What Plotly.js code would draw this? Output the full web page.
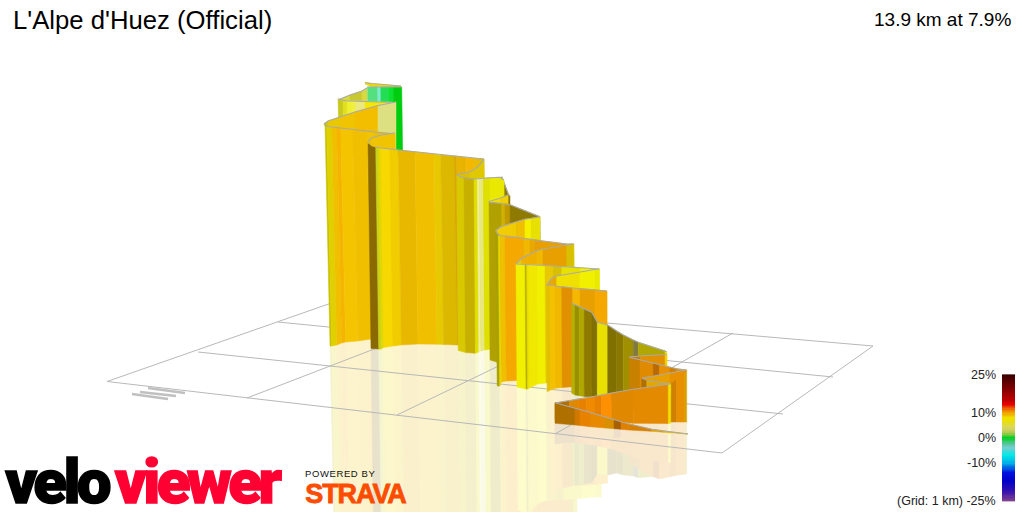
<!DOCTYPE html>
<html><head><meta charset="utf-8">
<script src="https://cdn.plot.ly/plotly-3.0.1.min.js"></script>
<style>
html,body{margin:0;padding:0;background:#fff}
#c{width:1024px;height:512px}
.annotation[data-index="2"] text{letter-spacing:-3.6px;stroke:#000;stroke-width:1.4px}
.annotation[data-index="3"] text{letter-spacing:-3.6px;stroke:#ff0033;stroke-width:1.4px}
.annotation[data-index="4"] text{letter-spacing:.6px}
.annotation[data-index="5"] text{letter-spacing:-1.1px;stroke:#fc4c02;stroke-width:.8px}
</style></head><body><div id="c"></div>
<script>
// Each ribbon: edge x, top y, base y (pixel-plane values), strip colours, lean
const greenTopX=[365,372,401], greenTopY=[82.5,83.5,86], greenTopB=[84,87,87], greenTopC=['#e8d800','#f0d800'];
const greenX=[367.3,377.7,380.7,388.3,393.3,401.7], greenY=[87,87,87,87,87,87], greenB=[155,155,155,155,155,155], greenC=['#55e080','#7fe8d0','#22dd55','#0ce030','#00cc10'];
const oliveX=[339,350,362,367], oliveY=[99.5,95,91,88], oliveB=[112,112,112,112], oliveC=['#d8d840','#c8c830','#d8d840'];
const paleX=[338,343,347,351,355.5,365,378,392], paleY=[99,100.5,101,101,101,101.5,102,102.3], paleB=[140,140,140,140,140,140,140,140], paleC=['#c8c820','#e0e020','#f0f030','#f0f040','#ece880','#f4e800','#f4e800'];
const riseX=[324,328,340,355,378,396], riseY=[124,121,117,112,105.5,102], riseB=[125,128,155,155,155,155], riseC=['#c8c800','#e8c800','#f0c400','#f4be00','#dde080'];
const leftX=[325,326.7,331.7,336.7,340.7,352.7,366.7,375,391.7,395], leftY=[125,126,127,127.6,128,130,131.5,132,133.5,133], leftB=[346,346,345,343,342,341,339,339,340,340], leftC=['#c8c000','#e0d000','#f0c000','#f5b400','#f5c400','#f0c000','#f0c400','#e8c000','#e8c800'];
const brownX=[368,376], brownY=[143,147], brownB=[348.5,349], brownC=['#8a6a00'];
const curlX=[367.7,371.7,381.7,393.3], curlY=[141.7,137.7,135,133.3], curlB=[142,146,148,149], curlC=['#e8c000','#f0c400','#f0c400'];
const mainX=[375.7,378.3,380.7,390,398.3,415,434,440.7,454,456.7,466,474,480,484], mainY=[147.3,147.5,148,149,150,151.7,154,154.8,156,156.2,157.5,158.3,158.8,159], mainB=[349.3,349,347.5,346,345,344,344.2,344.5,345,345,345,345,345,345], mainC=['#c8d020','#e0d800','#f7d800','#f0cc00','#e8b800','#f0c000','#e8c800','#dcb800','#d8a800','#e8b400','#f5b800','#e8bc00','#d8c000'];
const main2X=[457,470,478.3,484], main2Y=[174.5,171.7,166.7,159.3], main2B=[175,179,179,179], main2C=['#dcc000','#e0c800','#e0c800'];
const darkX=[501.7,505,508.3,510], darkY=[176.7,185,194,196], darkB=[205,205,205,205], darkC=['#8f7a00','#8f7a00','#8f7a00'];
const hX=[456.7,464,474,477.3,479.3,483.3,490,500,504], hY=[175,177.7,179,178.7,178.3,178,177.7,177.2,180], hB=[350.5,352.5,353.3,352,351,350,349,348,348], hC=['#d8c800','#c8b000','#e0e000','#f0f0a0','#e8e880','#e0e000','#e8e800','#e8e800'];
const jWedgeX=[488.3,500,508], jWedgeY=[201.7,198.3,195], jWedgeB=[202,203.2,204.4], jWedgeC=['#f0e000','#f0d000'];
const jX=[489,501.7,505,510,525,540], jY=[202.3,203.3,203.7,204.7,210.7,216.7], jB=[360,364,366,366,366,366], jC=['#b0a000','#d0b000','#c09800','#8f7a00','#8f7a00'];
const kWedgeX=[495.7,501,516.7,525,531.7,540], kWedgeY=[230.7,226.7,221.7,219.3,218.3,216.7], kWedgeB=[231,236,238,239,239.5,240], kWedgeC=['#f0cc00','#f0cc00','#f0c000','#f5f000','#e8e000'];
const kX=[495.7,498.3,500,505,523.3,530,535,566.7,570.7,574], kY=[231,235,235.7,236,238.3,239,240,244,244,244], kB=[386,386,382,381,380,380,380,380,380,380], kC=['#a8a000','#e8d800','#f0c000','#f5a800','#f0b800','#e8a800','#e8a000','#d8b000','#d8d000'];
const lWedgeX=[516,521.7,536.7,543,566.7,573.3], lWedgeY=[264,258.3,250.7,249,245,244], lWedgeB=[264,264.2,265,265.5,267,267.5], lWedgeC=['#e8d000','#f0b000','#f0b800','#e8a000','#d8c000'];
const lX=[516,525,526.7,528.3,536.7,545,553.3,561.7,580,593.3,599.3], lY=[264,264.3,264.5,264.5,265,265.5,266,266.5,267.5,269,269], lB=[387,389,389,388,384,383,383,383,383,383,383], lC=['#f0f000','#b8b000','#e8e000','#f0e800','#f0f000','#e8c800','#d8c000','#e8e000','#f0f000','#e8e800'];
const mWedgeX=[546.7,551.7,556.7,580,595,599.3], mWedgeY=[285,278.3,276,271.7,269.5,269], mWedgeB=[285,285.5,286,288,289.5,290], mWedgeC=['#e8a800','#e8a800','#f0e000','#f0f000','#e8e800'];
const nX=[546.7,550,555,561.7,572.7,580,595,606.7], nY=[285,285.5,286,286.7,288,288.5,289.7,291], nB=[391.7,390,388.3,387.5,386.7,387,387,387], nC=['#e0c000','#f5c000','#f0b800','#e09000','#f5b800','#e8a000','#f5a800'];
const oX=[572,580,587,607], oY=[303,299,295,291], oB=[330,330,330,330], oC=['#f5a800','#f5a800','#f5a800'];
const pX=[571.7,575,579.3,584.3,591.7,597.3,607.7,616.7,623.3,633.3,638.3,655,665,666.7], pY=[303.3,304.7,306.7,309,312.3,322.3,325,331,335,340,342.3,347.7,350.7,351.7], pB=[393.3,395,395.7,396.5,397.3,398,400,402,405,408,410,412,414,414], pC=['#b8b000','#989000','#b0a800','#8f7a00','#807000','#e8e000','#807000','#8a7800','#a09000','#807840','#b0a800','#b0a800','#f0e000'];
const rWedgeX=[629,640,665,667], rWedgeY=[357,356,354.5,354], rWedgeB=[357,360,366,367], rWedgeC=['#c08000','#e09000','#f0d000'];
const rX=[629.3,640,653.3,659.3,670,676.7,684,686.7], rY=[357.3,360,363.3,365,367.3,368.7,369.7,370], rB=[410,415,420,422,422,422,422,422], rC=['#c88000','#e08a00','#b86a00','#e89000','#d08000','#e89000','#d8a000'];
const sWedgeX=[642,650,670,686], sWedgeY=[378.3,377,373,370], sWedgeB=[378.3,380,384,372], sWedgeC=['#e8a000','#e8a000','#e89000'];
const sX=[641.7,646.7,670,670.7], sY=[378.3,380,384,384], sB=[395,395,395,395], sC=['#b07000','#e0a800','#e0a800'];
const qX=[555,569.3,578.3,586.7,595,601.7,611.7,633.3,668.3,670.7], qY=[403,400.7,399,398,396.7,395,393,389.3,384.3,384], qB=[420,420,421,421,421,421,421,423.3,423.5,423.3], qC=['#b07000','#e08800','#e88000','#f08a00','#e88000','#ff9000','#e08800','#e48a00','#f0e000'];
const tX=[555,575,580,590,605,614,621,628.3,651.7,663.3,688], tY=[402.7,408,409.3,412.3,417,419.7,421.7,423.7,429.3,431,434], tB=[423.3,425,425.5,426.7,428,428.7,429.3,430,431.3,432.3,434], tC=['#b07000','#d07800','#e88000','#e88a00','#d89000','#a86000','#e08000','#d88000','#e0a000','#e0b000'];

// Ribbons back to front: [x, top, base, colours, lean, mirrored]
const ribbons=[
 [greenTopX,greenTopY,greenTopB,greenTopC,0,false],
 [greenX,greenY,greenB,greenC,1,false],
 [oliveX,oliveY,oliveB,oliveC,0,false],
 [paleX,paleY,paleB,paleC,1,false],
 [riseX,riseY,riseB,riseC,0,false],
 [leftX,leftY,leftB,leftC,5,true],
 [brownX,brownY,brownB,brownC,3,true],
 [curlX,curlY,curlB,curlC,0,false],
 [mainX,mainY,mainB,mainC,3,true],
 [main2X,main2Y,main2B,main2C,0,false],
 [darkX,darkY,darkB,darkC,0,false],
 [hX,hY,hB,hC,1.5,true],
 [jWedgeX,jWedgeY,jWedgeB,jWedgeC,0,false],
 [jX,jY,jB,jC,1,true],
 [kWedgeX,kWedgeY,kWedgeB,kWedgeC,0,false],
 [kX,kY,kB,kC,1.5,true],
 [lWedgeX,lWedgeY,lWedgeB,lWedgeC,0,false],
 [lX,lY,lB,lC,1,true],
 [mWedgeX,mWedgeY,mWedgeB,mWedgeC,0,false],
 [oX,oY,oB,oC,0,false],
 [nX,nY,nB,nC,.5,true],
 [pX,pY,pB,pC,0,true],
 [rWedgeX,rWedgeY,rWedgeB,rWedgeC,0,false],
 [rX,rY,rB,rC,0,true],
 [sWedgeX,sWedgeY,sWedgeB,sWedgeC,0,false],
 [sX,sY,sB,sC,0,false],
 [qX,qY,qB,qC,0,true],
 [tX,tY,tB,tC,0,true]
];

// Ground grid
const gridLines=[
 [[107,722],[381.5,453]],[[198,783],[352,414]],[[278,833],[322,377]],[[340,873],[300,346]],
 [[107,340],[381.5,300]],[[247,473],[398,311]],[[397,592],[415,321]],[[555,733],[434,333]],[[722,873],[453,346]]
];
const northMarks=[[[148,185],[388,393]],[[140,176],[392,396]],[[132,168],[394,399]]];

// Gradient scale
const scalePercents=[25,20,15,13.5,11,8,7,4,2,0,-2.6,-4,-7,-10,-14,-17,-21,-25];
const scaleColors=['#3a0000','#7a0000','#c00000','#e40000','#f08000','#f0e000','#eee000','#d8d860','#b8c850','#00d020','#60c8a8','#70d0d0','#00e8e8','#00b0e8','#0010e0','#0000c8','#3010b0','#804090'];
const scaleTicks=[25,10,0,-10];
const GRID_LABEL='(Grid: 1 km) -25%';

function blend(hex,k){const n=parseInt(hex.slice(1),16);const c=[n>>16,(n>>8)&255,n&255].map(v=>Math.round(v*k+255*(1-k)));return `rgb(${c[0]},${c[1]},${c[2]})`;}
const noHover={hoverinfo:'skip',showlegend:false};
const traces=[];
// reflection
ribbons.forEach(([x,top,base,col,lean,mir])=>{
  if(!mir)return;
  col.forEach((c,i)=>{
    const ax=x[i]+lean,bx=x[i+1]+lean;
    const pc=blend(c,.2);
    traces.push({type:'scatter',mode:'lines',fill:'toself',fillcolor:pc,line:{color:pc,width:.5},
      x:[ax,bx,bx+lean,ax+lean,ax],y:[base[i],base[i+1],2*base[i+1]-top[i+1],2*base[i]-top[i],base[i]],...noHover});
  });
});
gridLines.forEach(g=>traces.push({type:'scatter',mode:'lines',x:g[0],y:g[1],line:{color:'#b8b8b8',width:1},...noHover}));
northMarks.forEach(g=>traces.push({type:'scatter',mode:'lines',x:g[0],y:g[1],line:{color:'#c0c0c0',width:2.4},...noHover}));
// walls
ribbons.forEach(([x,top,base,col,lean])=>{
  col.forEach((c,i)=>{
    traces.push({type:'scatter',mode:'lines',fill:'toself',fillcolor:c,line:{color:c,width:.5},
      x:[x[i],x[i+1],x[i+1]+lean,x[i]+lean,x[i]],y:[top[i],top[i+1],base[i+1],base[i],top[i]],...noHover});
  });
  traces.push({type:'scatter',mode:'lines',x:x,y:top,line:{color:'#aaaaaa',width:1.1},...noHover});
});
// scale bar
const rowY=[],rowZ=[];
for(let p=25;p>=-25.01;p-=.5){rowY.push(438-2.52*p);rowZ.push([p]);}
const cs=scalePercents.map((p,i)=>[(p+25)/50,scaleColors[i]]).reverse();
traces.push({type:'heatmap',x:[1002,1015],y:rowY,z:rowZ,zmin:-25,zmax:25,colorscale:cs,showscale:false,hoverinfo:'skip'});

const F='"Liberation Sans",Arial,sans-serif';
const R='Roboto,"Liberation Sans",sans-serif';
const ann=(text,x,y,size,color,xa,extra)=>Object.assign({text,x,y,xref:'x',yref:'y',showarrow:false,xanchor:xa,yanchor:'middle',font:{family:F,size,color}},extra||{});
const annotations=[
 ann("L'Alpe d'Huez (Official)",10.5,19.5,25.7,'#000','left'),
 ann('13.9 km at 7.9%',1013,19,19,'#000','right'),
 ann('velo',0,481,62,'#000','left',{xshift:-4,font:{family:R,size:62,color:'#000',weight:900}}),
 ann('viewer',102,481,62,'#ff0033','left',{font:{family:R,size:62,color:'#ff0033',weight:900}}),
 ann('POWERED BY',306,473,9.5,'#111','left'),
 ann('STRAVA',300,494,27,'#fc4c02','left',{font:{family:F,size:27,color:'#fc4c02',weight:700}})
];
scaleTicks.forEach(p=>annotations.push(ann(p+'%',997.5,438-2.52*p,12.5,'#222','right')));
annotations.push(ann(GRID_LABEL,997.5,501,12.5,'#222','right'));

Plotly.newPlot('c',traces,{
 width:1024,height:512,margin:{l:0,r:0,t:0,b:0},paper_bgcolor:'#fff',plot_bgcolor:'#fff',showlegend:false,
 xaxis:{range:[0,1024],visible:false,fixedrange:true},yaxis:{range:[512,0],visible:false,fixedrange:true},annotations
},{staticPlot:true,displayModeBar:false});
</script></body></html>
